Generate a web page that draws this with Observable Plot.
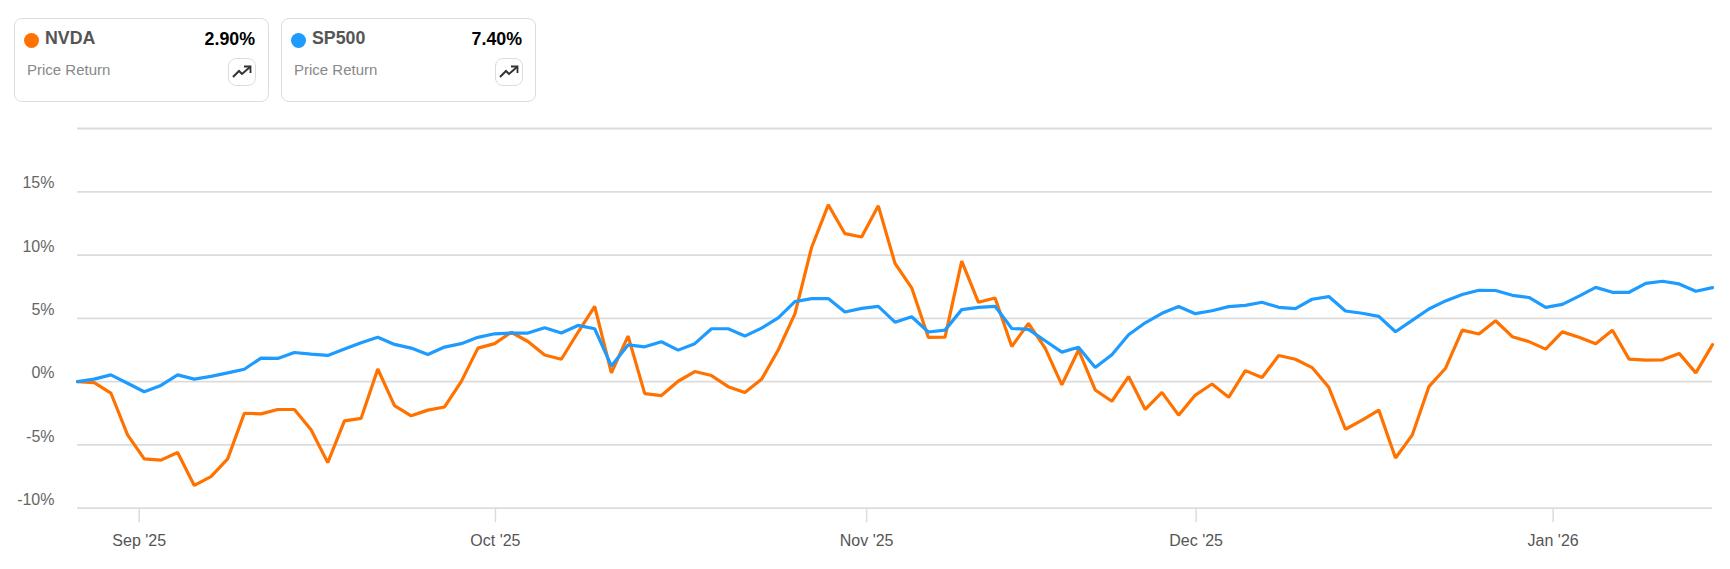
<!DOCTYPE html>
<html><head><meta charset="utf-8">
<script src="https://cdn.jsdelivr.net/npm/d3@7"></script>
<script src="https://cdn.jsdelivr.net/npm/@observablehq/plot@0.6"></script>
<style>
html,body{margin:0;padding:0;background:#fff;font-family:"Liberation Sans",Arial,sans-serif}
#cards{position:relative;height:110px;width:1730px}
.card{position:absolute;top:18px;width:252.5px;height:82px;border:1px solid #ddd;border-radius:8px;box-sizing:content-box}
.dot{position:absolute;left:9px;top:13.5px;width:15px;height:15px;border-radius:50%}
.name{position:absolute;left:30px;top:9px;font-weight:bold;font-size:17.8px;color:#555;line-height:21px}
.val{position:absolute;right:12.5px;top:9.5px;font-weight:bold;font-size:17.8px;color:#000;line-height:21px}
.sub{position:absolute;left:12px;top:42px;font-size:15px;color:#888;line-height:18px}
.btn{position:absolute;right:12px;top:39px;width:26px;height:26px;border:1px solid #ddd;border-radius:8px}
.btn svg{position:absolute;left:3px;top:3px}
svg{display:block}
</style></head><body>
<div id="cards"></div><div id="chart"></div>
<script>
const nvda=[0,-0.08,-0.9,-4.2,-6.1,-6.2,-5.6,-8.2,-7.5,-6.1,-2.5,-2.55,-2.2,-2.2,-3.8,-6.4,-3.1,-2.9,1.0,-1.9,-2.7,-2.25,-2.0,0,2.65,3.0,3.9,3.17,2.1,1.77,3.9,5.95,0.7,3.6,-0.95,-1.1,0.03,0.8,0.48,-0.4,-0.85,0.18,2.5,5.35,10.6,13.97,11.69,11.43,13.89,9.34,7.41,3.49,3.52,9.52,6.27,6.61,2.78,4.6,2.65,-0.26,2.5,-0.66,-1.55,0.4,-2.2,-0.85,-2.65,-1.06,-0.19,-1.24,0.87,0.32,2.06,1.77,1.11,-0.45,-3.76,-3.04,-2.25,-6.03,-4.23,-0.4,1.06,4.07,3.76,4.81,3.55,3.16,2.57,3.93,3.5,3.0,4.06,1.78,1.7,1.72,2.23,0.69,2.92];
const sp500=[0,0.2,0.53,-0.13,-0.8,-0.3,0.53,0.2,0.42,0.69,0.98,1.86,1.83,2.3,2.17,2.07,2.57,3.08,3.5,2.94,2.65,2.15,2.73,3.0,3.5,3.78,3.84,3.84,4.26,3.84,4.44,4.18,1.24,2.9,2.75,3.15,2.49,3.0,4.18,4.18,3.6,4.23,5.03,6.32,6.56,6.56,5.5,5.79,5.95,4.7,5.13,3.92,4.07,5.69,5.87,5.95,4.2,4.13,3.23,2.33,2.72,1.11,2.12,3.7,4.65,5.4,5.94,5.37,5.6,5.93,6.03,6.27,5.87,5.77,6.51,6.72,5.58,5.4,5.16,3.94,4.84,5.74,6.38,6.88,7.22,7.2,6.82,6.65,5.87,6.1,6.76,7.45,7.06,7.06,7.77,7.93,7.72,7.14,7.43];
const monthPositions=[3.7,25.05,47.3,67.05,88.45];
const monthLabels=["Sep '25","Oct '25","Nov '25","Dec '25","Jan '26"];
const gridValues=[-10,-5,0,5,10,15,20];
const yTickValues=[-10,-5,0,5,10,15];
const seriesNames=["NVDA","SP500"];
const seriesColors=["#ff7200","#1e9bff"];
const seriesReturns=["2.90%","7.40%"];
const subLabel="Price Return";

const icon='<svg width="20" height="20" viewBox="0 0 20 20" fill="none" stroke="#333" stroke-width="2"><path d="M1 15 L7 9 L10 12 L18 5"/><path d="M12 4.5 H18.5 V11" stroke-width="1.8"/></svg>';
const cardsEl=document.getElementById("cards");
seriesNames.forEach((n,i)=>{
  const c=document.createElement("div");
  c.className="card";c.style.left=(14+i*267)+"px";
  c.innerHTML=`<div class="dot" style="background:${seriesColors[i]}"></div><div class="name">${n}</div><div class="val">${seriesReturns[i]}</div><div class="sub">${subLabel}</div><div class="btn">${icon}</div>`;
  cardsEl.appendChild(c);
});

const rows=a=>a.map((v,i)=>({i,v}));
const chart=Plot.plot({
  width:1730,height:459,
  marginLeft:77,marginRight:18,marginTop:18,marginBottom:61.3,
  style:{fontFamily:'"Liberation Sans",Arial,sans-serif',fontSize:"16px",background:"#fff",overflow:"visible"},
  x:{type:"linear",domain:[0,98]},
  y:{type:"linear",domain:[-10,20]},
  marks:[
    Plot.ruleY(gridValues,{stroke:"#dcdcdc",strokeWidth:1.8}),
    Plot.axisY({ticks:yTickValues,tickSize:0,tickPadding:23,dy:-8.5,label:null,fill:"#666",tickFormat:d=>d+"%",fontSize:16}),
    Plot.axisX({ticks:monthPositions,tickFormat:d=>monthLabels[monthPositions.indexOf(d)],tickSize:14.5,tickPadding:12,label:null,stroke:"#dcdcdc",strokeWidth:1.5,fill:"#555",fontSize:16}),
    Plot.line(rows(nvda),{x:"i",y:"v",stroke:seriesColors[0],strokeWidth:3.2,strokeLinejoin:"miter"}),
    Plot.line(rows(sp500),{x:"i",y:"v",stroke:seriesColors[1],strokeWidth:3.2,strokeLinejoin:"miter"})
  ]
});
document.getElementById("chart").appendChild(chart);
</script></body></html>
